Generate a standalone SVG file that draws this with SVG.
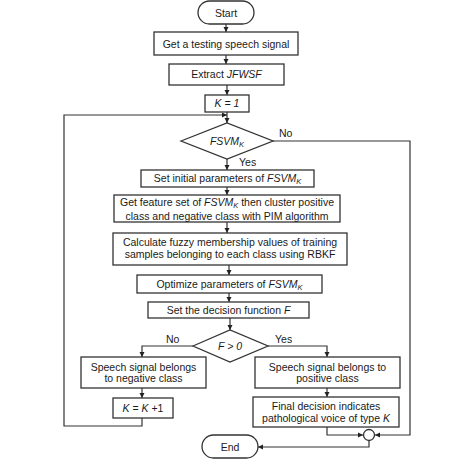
<svg xmlns="http://www.w3.org/2000/svg" width="474" height="474" viewBox="0 0 474 474">
<style>
.b{fill:#fff;stroke:#333;stroke-width:1.3}
.c{fill:none;stroke:#333;stroke-width:1.2}
text{font-family:"Liberation Sans",Arial,sans-serif;font-size:10.5px;fill:#1a1a1a;text-anchor:middle}
.l{text-anchor:start}
.i{font-style:italic}
.s{font-size:7.5px;font-style:italic}
</style>
<defs>
<marker id="a" markerWidth="6" markerHeight="6" refX="5" refY="3" orient="auto" markerUnits="userSpaceOnUse">
<path d="M0,0.5 L5,3 L0,5.5 Z" fill="#222"/>
</marker>
</defs>
<rect width="474" height="474" fill="#fff"/>
<g id="connectors" class="c" marker-end="url(#a)">
<path d="M226,24 V32"/>
<path d="M226,55 V64"/>
<path d="M227,85 V95"/>
<path d="M227,112 V123"/>
<path d="M142,418 V426 H64 V115 H227"/>
<path d="M227,159 V170"/>
<path d="M273,141 H410 V435 H375"/>
<path d="M227,187 V195"/>
<path d="M227,222 V233"/>
<path d="M229,265 V275"/>
<path d="M229,293 V302"/>
<path d="M230,318 V330"/>
<path d="M193,346 H142 V357"/>
<path d="M268,346 H327 V357"/>
<path d="M142,388 V398"/>
<path d="M327,388 V397"/>
<path d="M327,427 V435 H363"/>
<path d="M369,441 V447 H258"/>
</g>
<g id="start"><rect class="b" x="198" y="1" width="56" height="23" rx="11.5"/><text x="226" y="16.5">Start</text></g>
<g id="get-signal"><rect class="b" x="154" y="32" width="144" height="23"/><text x="226" y="47.5">Get a testing speech signal</text></g>
<g id="extract"><rect class="b" x="169" y="64" width="115" height="21"/><text x="226.5" y="78">Extract <tspan class="i">JFWSF</tspan></text></g>
<g id="k1"><rect class="b" x="205" y="95" width="44" height="17"/><text x="227" y="107" class="i">K = 1</text></g>
<g id="fsvm-decision"><path class="b" d="M181,141 L227,123 L273,141 L227,159 Z"/><text x="227" y="145" class="i">FSVM<tspan class="s" dy="2">K</tspan></text>
<text x="279" y="137" class="l">No</text><text x="239" y="166" class="l">Yes</text></g>
<g id="set-initial"><rect class="b" x="141" y="170" width="173" height="17"/><text x="227.5" y="182">Set initial parameters of <tspan class="i">FSVM</tspan><tspan class="s" dy="2">K</tspan></text></g>
<g id="feature-set"><rect class="b" x="114" y="195" width="226" height="27"/><text x="227" y="206">Get feature set of <tspan class="i">FSVM</tspan><tspan class="s" dy="1.5">K</tspan><tspan dy="-1.5"> then cluster positive</tspan></text><text x="227" y="219.5">class and negative class with PIM algorithm</text></g>
<g id="calculate"><rect class="b" x="113" y="233" width="234" height="32"/><text x="230" y="246">Calculate fuzzy membership values of training</text><text x="230" y="258">samples belonging to each class using RBKF</text></g>
<g id="optimize"><rect class="b" x="137" y="275" width="185" height="18"/><text x="229.5" y="287.5">Optimize parameters of <tspan class="i">FSVM</tspan><tspan class="s" dy="2">K</tspan></text></g>
<g id="decision-function"><rect class="b" x="148" y="302" width="161" height="16"/><text x="228.5" y="314">Set the decision function <tspan class="i">F</tspan></text></g>
<g id="f-decision"><path class="b" d="M193,346 L230,330 L268,346 L230,362 Z"/><text x="230" y="350" class="i">F &gt; 0</text>
<text x="166" y="343" class="l">No</text><text x="275" y="343" class="l">Yes</text></g>
<g id="negative"><rect class="b" x="81" y="357" width="125" height="31"/><text x="143.5" y="370.5">Speech signal belongs</text><text x="143.5" y="382">to negative class</text></g>
<g id="positive"><rect class="b" x="255" y="357" width="145" height="31"/><text x="327.5" y="370.5">Speech signal belongs to</text><text x="327.5" y="382">positive class</text></g>
<g id="k-increment"><rect class="b" x="113" y="398" width="60" height="20"/><text x="143" y="411.5"><tspan class="i">K</tspan> = <tspan class="i">K</tspan> +1</text></g>
<g id="final"><rect class="b" x="253" y="397" width="146" height="30"/><text x="326" y="410">Final decision indicates</text><text x="326" y="422">pathological voice of type <tspan class="i">K</tspan></text></g>
<g id="join"><circle class="b" cx="369" cy="435" r="5.5"/></g>
<g id="end"><rect class="b" x="202" y="435" width="56" height="23" rx="11.5"/><text x="230" y="450.5">End</text></g>
</svg>
